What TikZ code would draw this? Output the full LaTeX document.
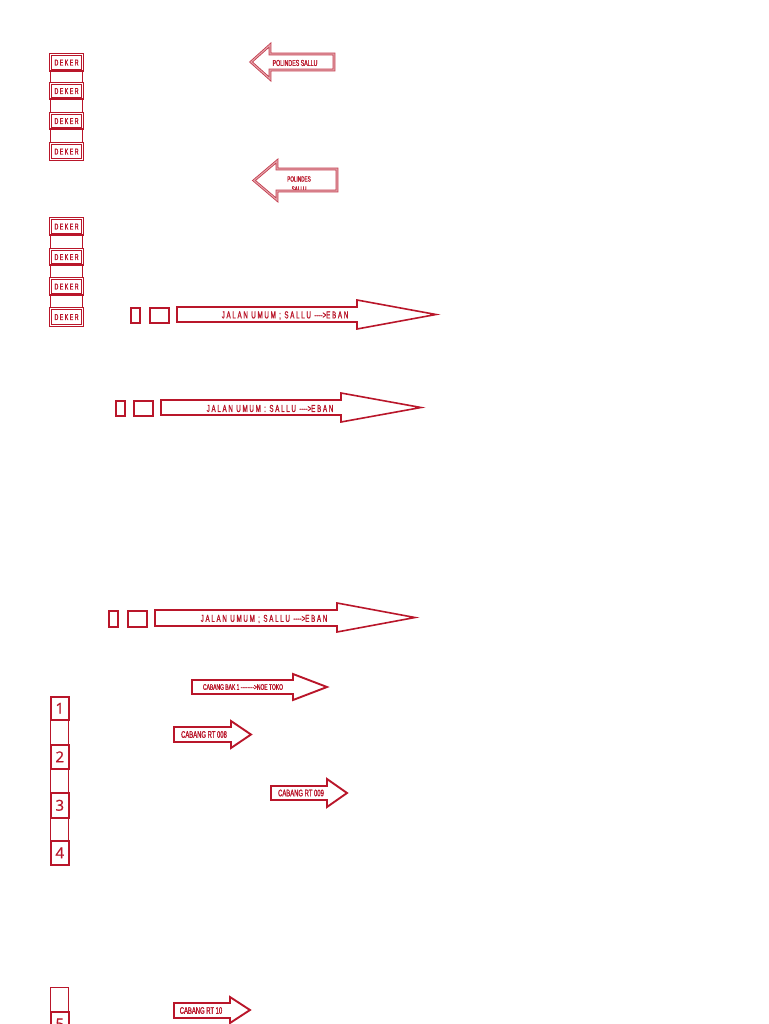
\documentclass[tikz,border=0pt]{standalone}
\usepackage{fontspec}
\newfontfamily\cond[FakeStretch=0.62,FakeBold=1.5]{Liberation Sans}
\newfontfamily\numfont[FakeBold=1]{Open Sans}
\definecolor{dred}{RGB}{185,22,42}
\newcommand{\RoadArrow}[7]{(#1,#2) -- (#4,#2) -- (#4,#5) -- (#7,{(#5+#6)/2}) -- (#4,#6) -- (#4,#3) -- (#1,#3) -- cycle}
\newcommand{\LeftArrowShape}[7]{(#1,#2) -- (#4,#2) -- (#4,#5) -- (#7,{(#5+#6)/2}) -- (#4,#6) -- (#4,#3) -- (#1,#3) -- cycle}
\begin{document}
\begin{tikzpicture}[x=1pt,y=-1pt]
\useasboundingbox (0,0) rectangle (768,1024);
\tikzset{
  dekcell/.style={draw=dred,line width=1.1,double=white,double distance=0.6,inner sep=0,anchor=north west,minimum width=32,text=dred,font=\cond\fontsize{8.5}{8.5}\selectfont},
  blankcell/.style={draw=dred,line width=1.2,inner sep=0,anchor=north west,minimum width=32},
  numcell/.style={draw=dred,line width=1.6,inner sep=0,anchor=north west,minimum width=18,text=dred,font=\numfont\fontsize{15}{15}\selectfont},
  numblank/.style={draw=dred,line width=1.1,inner sep=0,anchor=north west,minimum width=18},
  polarrow/.style={draw=dred!85,line width=0.8,double=dred!40,double distance=1.1,line join=miter},
  pollabel/.style={text=dred,inner sep=0,font=\cond\fontsize{8.5}{9}\selectfont,align=center},
  road/.style={draw=dred,line width=1.6,line join=miter},
  roadbox/.style={draw=dred,line width=1.6,inner sep=0,anchor=north west},
  roadlabel/.style={text=dred,inner sep=0,font=\cond\fontsize{10}{10}\selectfont},
  branch/.style={draw=dred,line width=1.9,line join=miter},
  branchlabel/.style={text=dred,inner sep=0,font=\cond\fontsize{9.5}{9.5}\selectfont},
}
% ---- DEKER column A
\node[dekcell,minimum height=16] (a1) at (50,54) {D E K E R};
\node[blankcell,minimum height=13] (a2) at (50,70) {};
\node[dekcell,minimum height=15] (a3) at (50,83) {D E K E R};
\node[blankcell,minimum height=15] (a4) at (50,98) {};
\node[dekcell,minimum height=15] (a5) at (50,113) {D E K E R};
\node[blankcell,minimum height=15] (a6) at (50,128) {};
\node[dekcell,minimum height=16] (a7) at (50,143) {D E K E R};
% ---- DEKER column B
\node[dekcell,minimum height=16] (b1) at (50,218) {D E K E R};
\node[blankcell,minimum height=15] (b2) at (50,234) {};
\node[dekcell,minimum height=15] (b3) at (50,249) {D E K E R};
\node[blankcell,minimum height=14] (b4) at (50,264) {};
\node[dekcell,minimum height=16] (b5) at (50,278) {D E K E R};
\node[blankcell,minimum height=14] (b6) at (50,294) {};
\node[dekcell,minimum height=17] (b7) at (50,308) {D E K E R};
% ---- POLINDES arrows
\draw[polarrow] \LeftArrowShape{334}{54}{70}{270}{45}{79}{251};
\node[pollabel] (p1) at (295,63) {POLINDES SALLU};
\begin{scope}
\draw[polarrow] \LeftArrowShape{337}{169}{191}{277}{161}{200}{254};
\clip (280,170) rectangle (335,190);
\node[pollabel,font=\cond\fontsize{7.5}{10}\selectfont] (p2) at (299,184) {POLINDES\\SALLU};
\end{scope}
% ---- JALAN UMUM arrows
\node[roadbox,minimum width=9,minimum height=15] (r1a) at (130,307) {};
\node[roadbox,minimum width=19,minimum height=15] (r1b) at (149,307) {};
\draw[road] \RoadArrow{177}{307}{322}{357}{300}{329}{436};
\node[roadlabel] (r1) at (285,315.5) {J A L A N \ U M U M \ ; \ S A L L U \ ---->E B A N};
\node[roadbox,minimum width=9,minimum height=15] (r2a) at (115,400) {};
\node[roadbox,minimum width=19,minimum height=15] (r2b) at (133,400) {};
\draw[road] \RoadArrow{161}{400}{415}{341}{393}{422}{421};
\node[roadlabel] (r2) at (270,408.5) {J A L A N \ U M U M \ : \ S A L L U \ ---->E B A N};
\node[roadbox,minimum width=9,minimum height=16] (r3a) at (108,610) {};
\node[roadbox,minimum width=19,minimum height=16] (r3b) at (127,610) {};
\draw[road] \RoadArrow{155}{610}{626}{337}{603}{632}{415};
\node[roadlabel] (r3) at (264,619) {J A L A N \ U M U M \ ; \ S A L L U \ ---->E B A N};
% ---- CABANG arrows
\draw[branch] \RoadArrow{192}{680}{694}{293}{674}{700}{327};
\node[branchlabel,font=\cond\fontsize{8}{8}\selectfont] (c1) at (243,687) {CABANG BAK 1 -------->NOE TOKO};
\draw[branch] \RoadArrow{174}{727}{742}{231}{721}{748}{251};
\node[branchlabel] (c2) at (204,734.5) {CABANG RT 008};
\draw[branch] \RoadArrow{271}{786}{800}{327}{779}{807}{347};
\node[branchlabel] (c3) at (301,793) {CABANG RT 009};
\draw[branch] \RoadArrow{174}{1003}{1018}{230}{997}{1023}{250};
\node[branchlabel] (c4) at (201,1010.5) {CABANG RT 10};
% ---- number column
\node[numcell,minimum height=23] (n1) at (50,696) {1};
\node[numblank,minimum height=25] (n1b) at (50,719) {};
\node[numcell,minimum height=24] (n2) at (50,744) {2};
\node[numblank,minimum height=24] (n2b) at (50,768) {};
\node[numcell,minimum height=25] (n3) at (50,792) {3};
\node[numblank,minimum height=23] (n3b) at (50,817) {};
\node[numcell,minimum height=24] (n4) at (50,840) {4};
\node[numblank,minimum height=24] (n5b) at (50,987) {};
\node[numcell,minimum height=24] (n5) at (50,1011) {5};
\end{tikzpicture}
\end{document}
